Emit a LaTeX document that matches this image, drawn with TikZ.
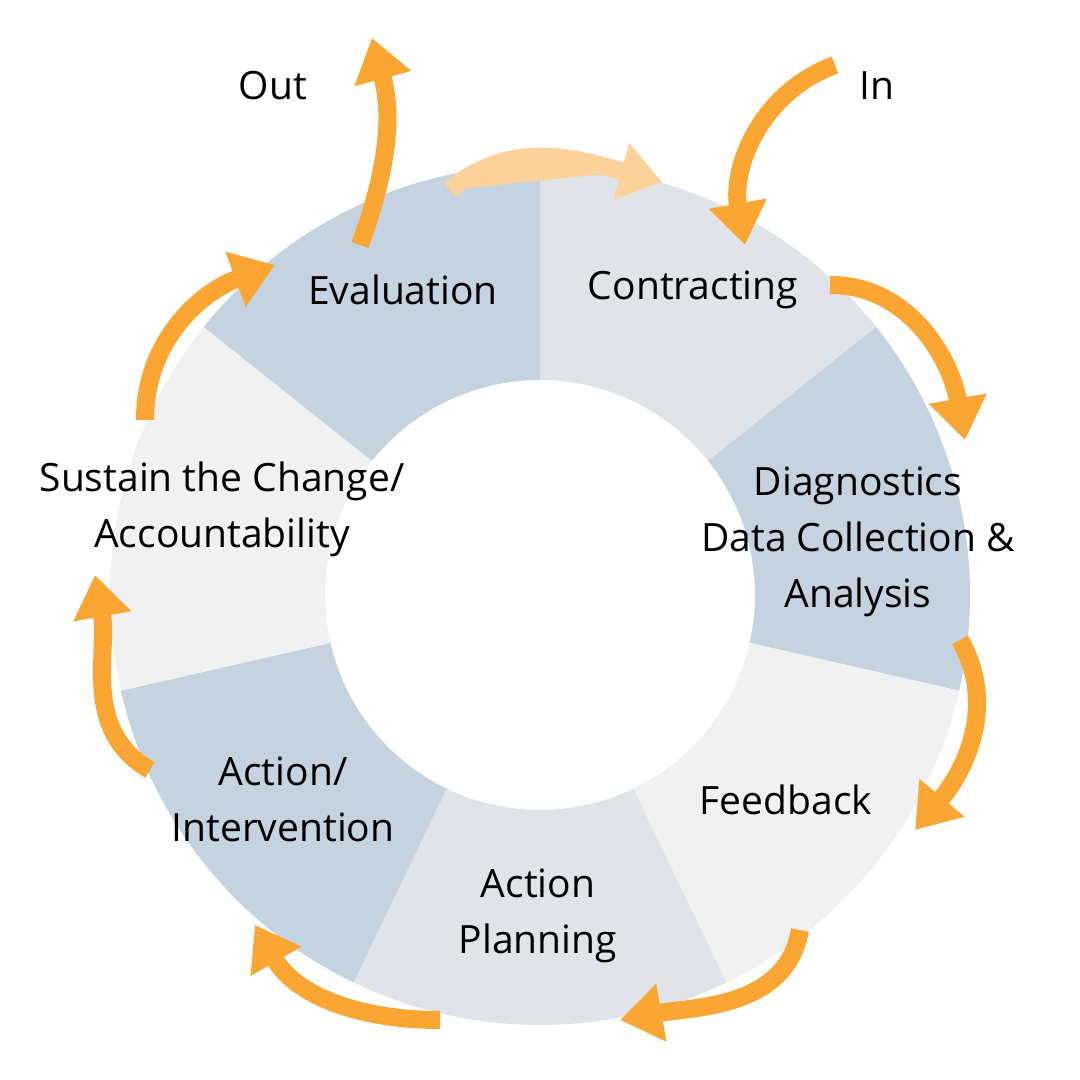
\documentclass[tikz,border=0pt]{standalone}
\usepackage{fontspec}
\setmainfont{Open Sans}
\usetikzlibrary{arrows.meta}
\definecolor{segA}{HTML}{C5D2DF}
\definecolor{segB}{HTML}{E0E3E8}
\definecolor{segC}{HTML}{F1F1F2}
\definecolor{orng}{HTML}{FBA633}
\definecolor{forng}{HTML}{FCD29A}
\tikzset{
  lbl/.style={font=\fontsize{39}{56}\selectfont, align=center, inner sep=0pt},
  oarrow/.style={draw=orng, line width=18pt, -{Triangle[width=56pt,length=42pt]}},
}
\begin{document}
\begin{tikzpicture}[x=1pt,y=1pt]
\useasboundingbox (0,0) rectangle (1080,1080);
\fill[white] (0,0) rectangle (1080,1080);
\def\cx{540}\def\cy{485}
\foreach \a/\c in {90/segB, 38.57/segA, -12.86/segC, -64.29/segB, -115.71/segA, -167.14/segC, 141.43/segA}{
  \fill[\c] ({\cx+430*cos(\a)},{\cy+430*sin(\a)}) arc[start angle=\a, delta angle=-51.43, radius=430]
    -- ({\cx+215*cos(\a-51.43)},{\cy+215*sin(\a-51.43)}) arc[start angle=\a-51.43, delta angle=51.43, radius=215] -- cycle;
}
\node[lbl] (eval) at (403,790) {Evaluation};
\node[lbl] (contr) at (693,790) {Contracting};
\node[lbl] (diag) at (858,538) {Diagnostics\\Data Collection \&\\Analysis};
\node[lbl] (feed) at (786,280) {Feedback};
\node[lbl] (plan) at (538,164) {Action\\Planning};
\node[lbl] (act) at (283,281) {Action/\\Intervention};
\node[lbl] (sus) at (222,571) {Sustain the Change/\\Accountability};
\node[lbl] (out) at (273,994) {Out};
\node[lbl] (in) at (877,994) {In};
\coordinate (a1) at (835,1015); \coordinate (b1) at (745,835);
\coordinate (a2) at (830,795); \coordinate (b2) at (965,640);
\coordinate (a3) at (960,440); \coordinate (b3) at (915,250);
\coordinate (a4) at (800,150); \coordinate (b4) at (620,60);
\coordinate (a5) at (440,60); \coordinate (b5) at (255,155);
\coordinate (a6) at (150,310); \coordinate (b6) at (95,505);
\coordinate (a7) at (145,660); \coordinate (b7) at (275,815);
\coordinate (a8) at (360,835); \coordinate (b8) at (372,1042);
\coordinate (a9) at (450,890); \coordinate (b9) at (662,898);
\draw[oarrow, draw=forng, fill=forng] (a9) to[out=40,in=165] (b9);
\draw[oarrow] (a1) to[out=200,in=100] (b1);
\draw[oarrow] (a2) to[out=0,in=100] (b2);
\draw[oarrow] (a3) to[out=-60,in=50] (b3);
\draw[oarrow] (a4) to[out=-100,in=10] (b4);
\draw[oarrow] (a5) to[out=180,in=-60] (b5);
\draw[oarrow] (a6) to[out=150,in=-80] (b6);
\draw[oarrow] (a7) to[out=90,in=200] (b7);
\draw[oarrow] (a8) to[out=70,in=-75] (b8);
\end{tikzpicture}
\end{document}
